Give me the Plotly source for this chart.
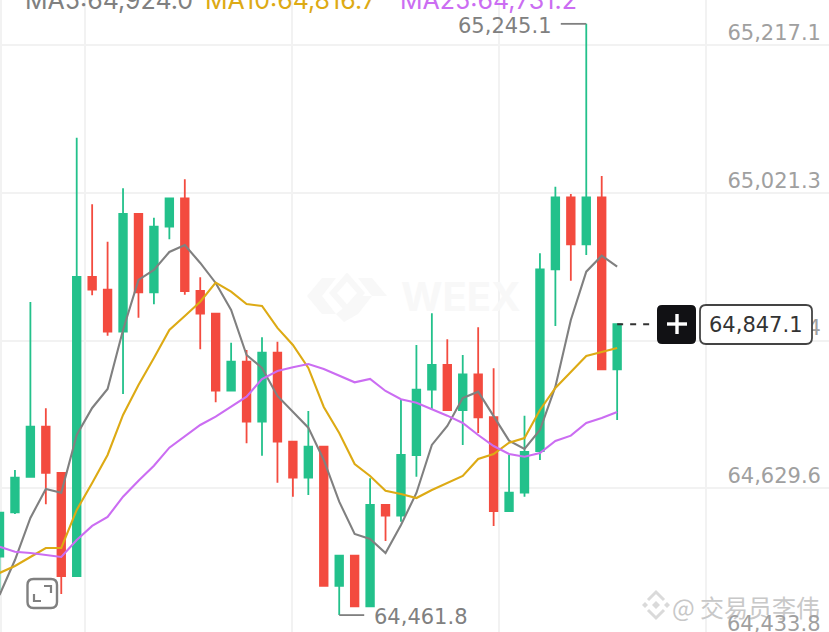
import plotly.graph_objects as go

W, H = 829, 632

candle_x = list(range(41))
opens = [64539.2, 64598.0, 64644.8, 64711.4, 64650.1, 64513.6, 64909.7, 64892.9, 64837.3, 64993.2, 64889.5,
         64976.4, 65014.0, 64891.2, 64861.1, 64759.1, 64797.5, 64718.0, 64809.4, 64691.5, 64643.8,
         64684.9, 64500.4, 64540.5, 64473.5, 64607.7, 64593.5, 64673.9, 64760.4, 64793.1, 64733.5,
         64780.8, 64723.9, 64599.7, 64624.0, 64679.0, 64919.9, 65015.3, 64953.1, 65015.3, 64787.4]
closes = [64597.5, 64643.8, 64711.4, 64650.1, 64513.6, 64909.7, 64892.9, 64837.3, 64993.2, 64889.5, 64976.4,
          65014.0, 64891.2, 64861.1, 64759.1, 64797.5, 64718.0, 64809.4, 64691.5, 64643.8, 64684.9,
          64500.4, 64540.5, 64473.5, 64607.7, 64593.5, 64673.9, 64760.4, 64793.1, 64733.5, 64780.8,
          64723.9, 64599.7, 64624.0, 64677.9, 64919.9, 65015.3, 64953.1, 65015.3, 64787.4, 64847.1]
highs = [64598.4, 64654.0, 64876.6, 64735.8, 64650.1, 65094.3, 65006.0, 64956.5, 65027.2, 64993.2, 64988.3,
         65014.0, 65039.2, 64909.3, 64861.6, 64822.7, 64813.0, 64829.8, 64824.0, 64691.5, 64732.2,
         64684.9, 64540.5, 64541.5, 64643.0, 64607.7, 64746.8, 64819.6, 64861.6, 64827.2, 64806.4,
         64843.1, 64788.8, 64673.9, 64726.0, 64941.1, 65029.4, 65019.7, 65245.1, 65043.5, 64848.4]
lows = [64495.1, 64595.8, 64643.8, 64608.6, 64489.8, 64513.6, 64885.5, 64832.0, 64754.7, 64855.8, 64873.6,
        64959.7, 64886.3, 64813.9, 64743.7, 64759.1, 64689.4, 64673.0, 64637.2, 64618.7, 64620.9,
        64500.4, 64461.8, 64473.5, 64473.5, 64560.0, 64585.6, 64645.2, 64733.5, 64733.5, 64687.2,
        64703.1, 64579.9, 64599.7, 64618.7, 64667.3, 64844.8, 64904.8, 64938.9, 64787.4, 64720.3]

ma5 = [64488.4, 64534.8, 64590.5, 64628.9, 64624.0, 64700.4, 64736.2, 64761.4, 64839.5, 64905.8, 64919.0,
       64942.9, 64952.1, 64928.3, 64901.8, 64866.0, 64806.4, 64789.2, 64752.1, 64731.3, 64710.1,
       64667.3, 64612.1, 64569.3, 64562.6, 64544.1, 64581.2, 64623.6, 64687.2, 64712.3, 64749.4,
       64757.8, 64724.7, 64692.9, 64681.9, 64707.0, 64764.4, 64852.8, 64916.8, 64938.0, 64923.4]
ma10 = [64517.6, 64526.9, 64538.8, 64550.7, 64550.7, 64601.1, 64636.8, 64673.9, 64726.9, 64766.7, 64802.4,
        64839.5, 64858.1, 64877.0, 64902.2, 64890.3, 64874.0, 64871.3, 64842.2, 64819.6, 64789.2,
        64737.5, 64703.1, 64662.0, 64646.1, 64626.6, 64622.2, 64616.9, 64627.5, 64636.8, 64646.1,
        64668.6, 64675.2, 64690.2, 64696.4, 64733.5, 64762.7, 64783.9, 64805.1, 64810.4, 64815.7]
ma25 = [64552.4, 64545.8, 64544.1, 64541.4, 64538.8, 64561.3, 64579.9, 64591.8, 64618.7, 64639.9, 64659.7,
        64683.6, 64698.2, 64713.7, 64724.7, 64737.5, 64751.2, 64774.6, 64785.2, 64790.1, 64794.5,
        64787.8, 64779.0, 64770.2, 64774.6, 64758.7, 64747.7, 64743.2, 64734.5, 64726.0, 64716.3,
        64700.4, 64685.8, 64675.2, 64671.7, 64676.6, 64692.5, 64699.5, 64716.3, 64722.9, 64730.9]

price_ticks = [65217.1, 65021.3, 64825.4, 64629.6]
price_labels = ["65,217.1", "65,021.3", "64,825.4", "64,629.6"]
bottom_label = "64,433.8"
time_grid = [0.1, 5.52, 18.92, 32.35, 45.76]

GREEN = "#23C18B"
RED = "#F34B3F"
GRAY = "#808080"
GOLD = "#DDAA14"
PURPLE = "#CB6DF2"
GRID = "#F2F2F2"
FONT = "Inter"
NUM_FONT = "DejaVu Sans"


# overlays are placed by screen pixel, same as the app draws them
def px(x):
    return x / W


def py(y):
    return 1 - y / H


def round_rect(x0, y0, x1, y1, r):
    return (f"M {px(x0 + r)} {py(y0)} L {px(x1 - r)} {py(y0)} Q {px(x1)} {py(y0)} {px(x1)} {py(y0 + r)} "
            f"L {px(x1)} {py(y1 - r)} Q {px(x1)} {py(y1)} {px(x1 - r)} {py(y1)} "
            f"L {px(x0 + r)} {py(y1)} Q {px(x0)} {py(y1)} {px(x0)} {py(y1 - r)} "
            f"L {px(x0)} {py(y0 + r)} Q {px(x0)} {py(y0)} {px(x0 + r)} {py(y0)} Z")


def poly(points, close=True):
    s = "M " + " L ".join(f"{px(a)} {py(b)}" for a, b in points)
    return s + (" Z" if close else "")


fig = go.Figure()

fig.add_trace(go.Candlestick(
    x=candle_x, open=opens, high=highs, low=lows, close=closes,
    increasing=dict(line=dict(color=GREEN, width=1.8), fillcolor=GREEN),
    decreasing=dict(line=dict(color=RED, width=1.8), fillcolor=RED),
    whiskerwidth=0, showlegend=False, hoverinfo="skip"))
for vals, col in [(ma5, GRAY), (ma10, GOLD), (ma25, PURPLE)]:
    fig.add_trace(go.Scatter(x=candle_x, y=vals, mode="lines", line=dict(color=col, width=2.1),
                             showlegend=False, hoverinfo="skip"))

# price labels as a text trace, so the price box can cover the one under it
fig.add_trace(go.Scatter(x=[53.2] * len(price_ticks), y=price_ticks, text=price_labels, mode="text",
                         textposition="top left", cliponaxis=False, showlegend=False, hoverinfo="skip",
                         textfont=dict(family=NUM_FONT, size=21, color="#A0A0A0")))

shapes = []
# WEEX watermark logo
for pts in [[(307, 296), (322, 278), (336, 278), (322, 296), (336, 314), (322, 314)],
            [(387, 296), (372, 278), (358, 278), (372, 296), (358, 314), (344, 322), (336, 314), (358, 296)]]:
    shapes.append(dict(type="path", xref="paper", yref="paper", path=poly(pts), fillcolor="#F8F8F8",
                       line=dict(width=0), layer="below"))
shapes.append(dict(type="path", xref="paper", yref="paper", layer="below", fillcolor="rgba(0,0,0,0)",
                   path=poly([(347, 277), (361, 293), (347, 309), (333, 293)]), line=dict(color="#F8F8F8", width=6)))

# high / low markers and price line
shapes.append(dict(type="line", x0=36.35, x1=38, y0=65245.1, y1=65245.1, line=dict(color=GRAY, width=1.8)))
shapes.append(dict(type="line", x0=22, x1=23.62, y0=64461.8, y1=64461.8, line=dict(color=GRAY, width=1.8)))
shapes.append(dict(type="line", x0=40, x1=42.5, y0=64847.1, y1=64847.1, line=dict(color="#333333", width=1.8, dash="6px,7px")))

# current price widgets, the box sits on top of the axis label under it
shapes.append(dict(type="path", xref="paper", yref="paper", path=round_rect(657, 305, 696, 344, 5),
                   fillcolor="#111114", line=dict(width=0)))
shapes.append(dict(type="path", xref="paper", yref="paper", path=round_rect(700, 305, 812, 344, 6),
                   fillcolor="white", line=dict(color="#444444", width=1.8)))
shapes.append(dict(type="line", xref="paper", yref="paper", x0=px(667), x1=px(687), y0=py(324), y1=py(324),
                   line=dict(color="white", width=3.4)))
shapes.append(dict(type="line", xref="paper", yref="paper", x0=px(677), x1=px(677), y0=py(314), y1=py(334),
                   line=dict(color="white", width=3.4)))

# fullscreen button
shapes.append(dict(type="path", xref="paper", yref="paper", path=round_rect(27.5, 579, 57, 608, 6),
                   fillcolor="rgba(255,255,255,0.85)", line=dict(color=GRAY, width=2.4)))
for pts in [[(34, 594), (34, 601), (41, 601)], [(44, 586), (51, 586), (51, 593)]]:
    shapes.append(dict(type="path", xref="paper", yref="paper", path=poly(pts, close=False),
                       fillcolor="rgba(0,0,0,0)", line=dict(color=GRAY, width=2.2)))

# bottom right logo
LOGO = "#DADADA"
for cx, cy, r in [(656, 605, 4), (645, 605, 3), (667, 605, 3)]:
    shapes.append(dict(type="path", xref="paper", yref="paper", fillcolor=LOGO, line=dict(width=0),
                       path=poly([(cx, cy - r), (cx + r, cy), (cx, cy + r), (cx - r, cy)])))
for pts in [[(648, 600), (656, 592), (664, 600)], [(648, 610), (656, 618), (664, 610)]]:
    shapes.append(dict(type="path", xref="paper", yref="paper", path=poly(pts, close=False),
                       fillcolor="rgba(0,0,0,0)", line=dict(color=LOGO, width=3)))

annotations = []
annotations.append(dict(x=px(553.5), xref="paper", y=py(26), yref="paper", text="65,245.1", showarrow=False,
                        xanchor="right", yanchor="middle", font=dict(family=NUM_FONT, size=21, color=GRAY)))
annotations.append(dict(x=px(372), xref="paper", y=py(617), yref="paper", text="64,461.8", showarrow=False,
                        xanchor="left", yanchor="middle", font=dict(family=NUM_FONT, size=21, color=GRAY)))
annotations.append(dict(x=px(755.5), xref="paper", y=py(325), yref="paper", text="64,847.1", showarrow=False,
                        xanchor="center", yanchor="middle", font=dict(family=NUM_FONT, size=21, color="#333333")))
annotations.append(dict(x=px(399), xref="paper", y=py(296), yref="paper", text="<b>WEEX</b>", showarrow=False,
                        xanchor="left", yanchor="middle", font=dict(family=FONT, size=40, color="#F8F8F8")))
annotations.append(dict(x=px(822), xref="paper", y=py(606), yref="paper", text="@ 交易员李伟", showarrow=False,
                        xanchor="right", yanchor="middle", font=dict(family="Noto Sans CJK SC", size=24, color="#C8C8C8")))
# its gridline is below the picture, so it cannot go in the text trace
annotations.append(dict(x=px(823), xref="paper", y=py(624), yref="paper", text=bottom_label, showarrow=False,
                        xanchor="right", yanchor="middle", font=dict(family=NUM_FONT, size=21, color="#A0A0A0")))

# the legend row is cut off by the top of the picture
for x_left, txt, col in [(23, "MA5:64,924.0", GRAY), (203, "MA10:64,816.7", GOLD), (398, "MA25:64,731.2", PURPLE)]:
    annotations.append(dict(x=px(x_left), xref="paper", y=py(0), yref="paper", text=txt, showarrow=False,
                            xanchor="left", yanchor="middle", font=dict(family=FONT, size=25, color=col)))

fig.update_layout(
    width=W, height=H, margin=dict(l=0, r=0, t=0, b=0),
    paper_bgcolor="white", plot_bgcolor="white",
    shapes=shapes, annotations=annotations, hovermode=False, showlegend=False,
    xaxis=dict(range=[0.032, 53.72], tickvals=time_grid, showticklabels=False, showgrid=True,
               gridcolor=GRID, gridwidth=2, zeroline=False, rangeslider=dict(visible=False), ticks=""),
    yaxis=dict(range=[64439.4, 65276.7], tickvals=price_ticks, showticklabels=False, showgrid=True,
               gridcolor=GRID, gridwidth=2, zeroline=False, ticks=""),
)

fig.write_html("out.html", config=dict(displayModeBar=False),
               post_script="document.body.style.margin='0';document.body.style.overflow='hidden';")
